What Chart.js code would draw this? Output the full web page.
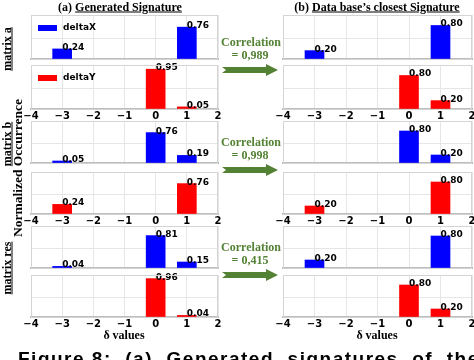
<!DOCTYPE html>
<html>
<head>
<meta charset="utf-8">
<script src="https://cdn.jsdelivr.net/npm/chart.js@4.4.1/dist/chart.umd.min.js"></script>
<style>
  html, body { margin: 0; padding: 0; background: #fff; }
  #wrap { position: relative; width: 474px; height: 360px; overflow: hidden; }
  canvas { position: absolute; }
  .t { position: absolute; font-family: "Liberation Serif", serif; font-weight: bold; white-space: nowrap; }
  .u { text-decoration: underline; }
  .rot { transform: translate(-50%, -50%) rotate(-90deg); }
  .ctr { transform: translate(-50%, -50%); }
  .green { color: #548235; font-size: 12px; }
  .arrow { position: absolute; }
</style>
</head>
<body>
<div id="wrap"></div>
<script>
// bins of the delta histograms and the x axis ticks
const deltaBins = [-3, 0, 1];
const deltaTicks = [-4, -3, -2, -1, 0, 1, 2];

// (a) generated signature
const genAX = [0.24, null, 0.76];
const genAY = [null, 0.95, 0.05];
const genBX = [0.05, 0.76, 0.19];
const genBY = [0.24, null, 0.76];
const genResX = [0.04, 0.81, 0.15];
const genResY = [null, 0.96, 0.04];

// (b) data base's closest signature
const dbAX = [0.20, null, 0.80];
const dbAY = [null, 0.80, 0.20];
const dbBX = [null, 0.80, 0.20];
const dbBY = [0.20, null, 0.80];
const dbResX = [0.20, null, 0.80];
const dbResY = [null, 0.80, 0.20];

const correlations = ['0,989', '0,998', '0,415'];
const matrixNames = ['matrix a', 'matrix b', 'matrix res'];

const wrap = document.getElementById('wrap');
const BLUE = '#0000ff', RED = '#ff0000';
const tickFont = { family: 'DejaVu Sans', size: 10, weight: 'bold' };

const barLabels = {
  id: 'barLabels',
  afterDatasetsDraw(chart) {
    const ctx = chart.ctx;
    const ds = chart.data.datasets[0];
    chart.getDatasetMeta(0).data.forEach((el, i) => {
      ctx.save();
      ctx.font = 'bold 9px "DejaVu Sans"';
      ctx.fillStyle = '#000';
      ctx.textAlign = 'left';
      ctx.textBaseline = 'alphabetic';
      ctx.fillText(ds.data[i].y.toFixed(2), el.x, el.y + 1);
      ctx.restore();
    });
  }
};

const boxAndLegend = {
  id: 'boxAndLegend',
  afterDraw(chart) {
    const a = chart.chartArea, ctx = chart.ctx;
    ctx.save();
    ctx.strokeStyle = '#d4d4d4';
    ctx.lineWidth = 1;
    ctx.strokeRect(a.left + 0.5, a.top + 0.5, a.right - a.left - 1, a.bottom - a.top);
    const lg = chart.options.plugins.boxAndLegend;
    if (lg && lg.text) {
      ctx.fillStyle = chart.data.datasets[0].backgroundColor;
      ctx.fillRect(a.left + 7, a.top + 10, 19, 6);
      ctx.fillStyle = '#000';
      ctx.font = 'bold 9px "DejaVu Sans"';
      ctx.textBaseline = 'middle';
      ctx.fillText(lg.text, a.left + 32, a.top + 13);
    }
    ctx.restore();
  }
};

function panel(x0, y0, x1, y1, values, color, withTicks, legendText) {
  const padL = 12, padR = 12, padT = 10, padB = 2;
  const c = document.createElement('canvas');
  const w = x1 - x0 + padL + padR;
  const h = y1 - y0 + padT + (withTicks ? 13 : padB);
  c.width = w; c.height = h;
  c.style.left = (x0 - padL) + 'px';
  c.style.top = (y0 - padT) + 'px';
  wrap.appendChild(c);
  const data = deltaBins.map((x, i) => ({ x: x, y: values[i] })).filter(d => d.y !== null);
  new Chart(c, {
    type: 'bar',
    data: { datasets: [{ data: data, backgroundColor: color, barThickness: 19 }] },
    options: {
      responsive: false,
      animation: false,
      layout: { padding: { left: padL, right: padR, top: padT, bottom: withTicks ? 0 : padB } },
      plugins: { legend: { display: false }, tooltip: { enabled: false }, boxAndLegend: { text: legendText } },
      scales: {
        x: {
          type: 'linear', min: -4, max: 2, offset: false,
          afterBuildTicks: s => { s.ticks = deltaTicks.map(v => ({ value: v })); },
          grid: { color: '#e6e6e6', drawTicks: false, offset: false },
          border: { color: '#bdbdbd', width: 2 },
          ticks: {
            display: withTicks, padding: 1, color: '#000', font: tickFont,
            callback: v => (v < 0 ? '\u2212' + Math.abs(v) : '' + v)
          }
        },
        y: {
          min: 0, max: 1.05,
          afterBuildTicks: s => { s.ticks = [{ value: 0 }, { value: 0.5 }]; },
          grid: { color: '#e6e6e6', drawTicks: false },
          border: { color: '#d4d4d4' },
          ticks: { display: false }
        }
      }
    },
    plugins: [barLabels, boxAndLegend]
  });
}

// vertical position of each panel: [top, baseline]
const rows = [[15, 59], [65, 110], [121, 163], [172, 215], [226, 268], [275, 318]];
const leftX = [31, 218], rightX = [283, 472];
const genSeries = [genAX, genAY, genBX, genBY, genResX, genResY];
const dbSeries = [dbAX, dbAY, dbBX, dbBY, dbResX, dbResY];

rows.forEach((r, i) => {
  const color = i % 2 === 0 ? BLUE : RED;
  const ticks = i % 2 === 1;
  let lg = null;
  if (i === 0) lg = 'deltaX';
  if (i === 1) lg = 'deltaY';
  panel(leftX[0], r[0], leftX[1], r[1], genSeries[i], color, ticks, lg);
  panel(rightX[0], r[0], rightX[1], r[1], dbSeries[i], color, ticks, null);
});

function addText(html, x, y, cls, size) {
  const d = document.createElement('div');
  d.className = 't ' + cls;
  d.style.left = x + 'px';
  d.style.top = y + 'px';
  if (size) d.style.fontSize = size + 'px';
  d.innerHTML = html;
  wrap.appendChild(d);
  return d;
}

addText('(a) <span class="u">Generated Signature</span>', 120, 7, 'ctr', 12);
addText('(b) <span class="u">Data base\u2019s closest Signature</span>', 377, 7, 'ctr', 12);
addText('\u03b4 values', 124, 335, 'ctr', 12);
addText('\u03b4 values', 377, 335, 'ctr', 12);
addText('Normalized Occurrence', 18, 168, 'rot', 13.5);

const matrixY = [49, 144, 268];
const corrY = [42, 142, 247];
matrixNames.forEach((m, i) => {
  addText('<span class="u">' + m + '</span>', 7, matrixY[i], 'rot', 12);
  addText('Correlation', 251, corrY[i], 'ctr green');
  addText('= ' + correlations[i], 250, corrY[i] + 13, 'ctr green');
  const svg = document.createElementNS('http://www.w3.org/2000/svg', 'svg');
  svg.setAttribute('class', 'arrow');
  svg.setAttribute('width', '60');
  svg.setAttribute('height', '14');
  svg.style.left = '220px';
  svg.style.top = (corrY[i] + 21) + 'px';
  svg.innerHTML = '<polygon points="2,4 46,4 46,1 58,7 46,13 46,10 2,10 6,7" fill="#548235"/>';
  wrap.appendChild(svg);
});

const cap = addText('Figure 8:&nbsp; (a)&nbsp; Generated&nbsp; signatures&nbsp; of&nbsp; the&nbsp; data', 18, 348, '', 19);
cap.style.fontFamily = '"Liberation Sans", sans-serif';
cap.style.letterSpacing = '1.5px';
</script>
</body>
</html>
